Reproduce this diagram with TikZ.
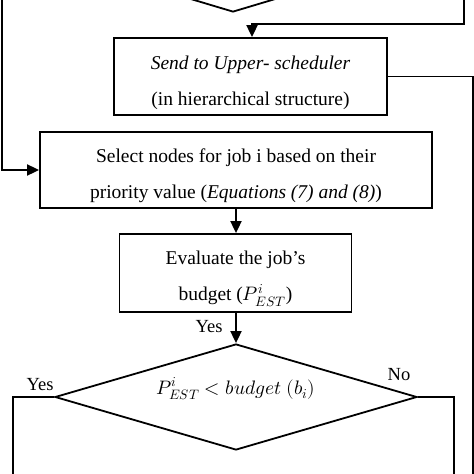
\documentclass[tikz,border=0pt]{standalone}
\usepackage{fontspec}
\usepackage{unicode-math}
\setmainfont{Liberation Serif}
\setmathfont{Latin Modern Math}
\usetikzlibrary{shapes.geometric,arrows.meta}
\newcommand\topup{\rule{0pt}{26pt}}
\tikzset{
  box/.style={draw,line width=1.8pt,inner sep=0pt,align=center,font=\fontsize{19.5}{36}\selectfont},
  dec/.style={draw,diamond,line width=1.8pt,inner sep=0pt,shape aspect=3.4},
  conn/.style={line width=1.8pt},
  arr/.style={line width=1.8pt,-{Triangle[length=12pt,width=11pt]}},
  lbl/.style={font=\fontsize{18.5}{20}\selectfont,inner sep=0pt}
}
\begin{document}
\begin{tikzpicture}[x=1pt,y=-1pt]
\useasboundingbox (0,0) rectangle (474,474);
\clip (0,0) rectangle (474,474);
% previous decision (clipped at top)
\node[dec,minimum width=346pt,minimum height=104pt] (prev) at (233,-40) {};
% boxes
\node[box,minimum width=273pt,minimum height=77pt] (send) at (250.5,76.5)
  {\topup\textit{Send to Upper- scheduler}\\(in hierarchical structure)};
\node[box,minimum width=392pt,minimum height=76pt] (select) at (236,170)
  {\topup Select nodes for job i based on their\\priority value (\textit{Equations (7) and (8)})};
\node[box,minimum width=232pt,minimum height=78pt] (eval) at (235.5,273)
  {\topup Evaluate the job’s\\budget ($P^{i}_{EST}$)};
\node[dec,minimum width=362pt,minimum height=106pt,font=\fontsize{19.5}{24}\selectfont] (cond) at (236,397)
  {\raisebox{3pt}[0pt][0pt]{$P^{i}_{EST} < budget~(b_i)$}};
% free ends
\coordinate (tr) at (464,-10);
\coordinate (tl) at (2,-10);
\coordinate (rb) at (473,490);
\coordinate (lb) at (13,490);
\coordinate (nb) at (454,490);
% connectors
\draw[arr] (tr) |- (252,24) -- (send.north -| 252,0);
\draw[arr] (tl) |- (select.west);
\draw[conn] (send.east) -| (rb);
\draw[arr] (select.south -| 236,0) -- (eval.north -| 236,0);
\draw[arr] (eval.south -| 236,0) -- (cond.north);
\draw[conn] (cond.west) -| (lb);
\draw[conn] (cond.east) -| (nb);
% labels
\node[lbl] (y1) at (209,327) {Yes};
\node[lbl] (y2) at (40,385) {Yes};
\node[lbl] (n1) at (399,375) {No};
\end{tikzpicture}
\end{document}
